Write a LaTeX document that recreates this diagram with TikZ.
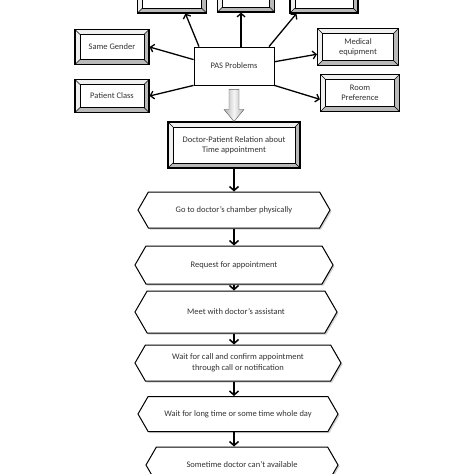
\documentclass[tikz,border=0pt]{standalone}
\usepackage{fontspec}
\setmainfont{Carlito}
\usetikzlibrary{arrows.meta,shapes.symbols,shadows}
\tikzset{
>=Stealth,
cornice/.style={draw, line width=1.1pt, fill=gray!55, align=center, inner sep=2pt, text=black!80,
  path picture={
    \path (path picture bounding box.south west) coordinate (b1)
          (path picture bounding box.north east) coordinate (b2);
    \fill[gray!12] (b1) -- ([shift={(5pt,5pt)}]b1) |- ([shift={(-5pt,-5pt)}]b2) -- (b2) -| (b1) -- cycle;
    \filldraw[fill=white, draw=black, line width=0.6pt] ([shift={(5pt,5pt)}]b1) rectangle ([shift={(-5pt,-5pt)}]b2);
    \draw[line width=0.5pt] (b1) -- ++(5pt,5pt) (b2) -- ++(-5pt,-5pt)
      (b1 |- b2) -- ++(5pt,-5pt) (b2 |- b1) -- ++(-5pt,5pt);
  }},
esagono/.style={signal, signal to=east and west, signal pointer angle=120, draw, line width=1pt,
  fill=white, align=center, inner sep=2pt, text=black!80,
  drop shadow={shadow xshift=1.5pt, shadow yshift=-1.5pt, fill=black!30, opacity=.6}},
freccia/.style={-{Straight Barb[length=3.5pt,width=8pt]}, line width=1.3pt},
giu/.style={-{Straight Barb[length=4pt,width=9pt]}, line width=1.5pt}}

\begin{document}
\begin{tikzpicture}[x=1pt,y=-1pt,font=\fontsize{8.5}{10.5}\selectfont]
\useasboundingbox (0,0) rectangle (474,474);
\clip (0,0) rectangle (474,474);

% problem boxes
\node[cornice, minimum width=69pt, minimum height=32pt] (tl) at (172,-3) {};
\node[cornice, minimum width=57pt, minimum height=32pt] (tc) at (246,-4) {};
\node[cornice, minimum width=68pt, minimum height=32pt] (tr) at (324,-3) {};
\node[cornice, minimum width=74pt, minimum height=35pt] (sg) at (112,47) {Same Gender};
\node[cornice, minimum width=74pt, minimum height=33pt] (pc) at (112,96) {Patient Class};
\node[cornice, minimum width=81pt, minimum height=37pt] (med) at (358,47) {Medical\\equipment};
\node[cornice, minimum width=79pt, minimum height=37pt] (room) at (360,93) {Room\\Preference};
\node[draw, line width=0.8pt, fill=white, minimum width=80pt, minimum height=38pt, text=black!80] (pas) at (234,66) {PAS Problems};

\path[freccia]
	(pas.151) edge (tl.-51)
	(pas.70) edge (pas.70 |- tc.south)
	(pas.29) edge (tr.211)
	(pas.171) edge (sg.east)
	(pas.south west) edge (pc.east)
	(pas.6) edge (med.190)
	(pas.south east) edge (room.189);

\node[cornice, minimum width=132pt, minimum height=46pt] (dp) at (234,145) {Doctor-Patient Relation about\\Time appointment};

\shade[left color=gray!60, right color=gray!60, middle color=gray!8, draw=gray!70!black, line width=0.4pt]
	([shift={(-5pt,-4pt)}]pas.south) -- ([shift={(5pt,-4pt)}]pas.south) -- ([shift={(5pt,12pt)}]dp.north)
	-- ([shift={(10pt,12pt)}]dp.north) -- (dp.north) -- ([shift={(-10pt,12pt)}]dp.north)
	-- ([shift={(-5pt,12pt)}]dp.north) -- cycle;

% steps
\node[esagono, minimum width=192pt, minimum height=36pt] (h1) at (234,210) {Go to doctor's chamber physically};
\node[esagono, minimum width=198pt, minimum height=38pt] (h2) at (234,265) {Request for appointment};
\node[esagono, minimum width=202pt, minimum height=42pt] (h3) at (236,312) {Meet with doctor's assistant};
\node[esagono, minimum width=206pt, minimum height=36pt] (h4) at (238,363) {Wait for call and confirm appointment\\through call or notification};
\node[esagono, minimum width=200pt, minimum height=35pt] (h5) at (238,414) {Wait for long time or some time whole day};
\node[esagono, minimum width=192pt, minimum height=36pt] (h6) at (242,465) {Sometime doctor can't available};

\path[giu]
	(dp.south) edge (dp.south |- h1.north)
	(h1.south -| dp.south) edge (dp.south |- h2.north)
	(h2.south -| dp.south) edge (dp.south |- h3.north)
	(h3.south -| dp.south) edge (dp.south |- h4.north)
	(h4.south -| dp.south) edge (dp.south |- h5.north)
	(h5.south -| dp.south) edge (dp.south |- h6.north);
\end{tikzpicture}
\end{document}
